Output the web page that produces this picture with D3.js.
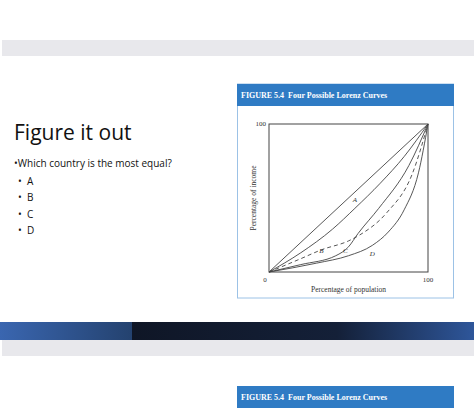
<!DOCTYPE html><html><head><meta charset="utf-8"><script src="https://cdn.jsdelivr.net/npm/d3@7"></script>
<style>body{margin:0;background:#fff}svg{display:block}</style></head><body><script>
const bullets=["A","B","C","D"];
const xTicks=[0,100];
const equality=[[0,0],[100,100]];
const curveA=[[0,0],[20,13],[40,29],[54,43],[70,60],[85,78],[100,100]];
const curveB=[[0,0],[20,9],[33,15],[50,21],[57,25],[74,40],[90,66],[100,100]];
const curveC=[[0,0],[20,5],[42,11],[50,17],[56,26],[69,43],[88,72],[100,100]];
const curveD=[[0,0],[30,6],[50,11],[65,18],[75,27],[85,42],[94,67],[100,100]];
const labels=[["A",54,47],["B",33,13],["C",48,13],["D",65,11]];

const svg=d3.select("body").append("svg").attr("width",474).attr("height",412);
svg.append("rect").attr("x",2).attr("y",40).attr("width",472).attr("height",16).attr("fill","#e8e8ec");
const txt=(x,y,s,t,o={})=>{const e=svg.append("text").attr("x",x).attr("y",y).attr("font-size",s).attr("font-family",o.f||"Open Sans, sans-serif").attr("fill",o.c||"#111").text(t);if(o.w)e.attr("font-weight",o.w);if(o.a)e.attr("text-anchor",o.a);return e;};
txt(14,140,21,"Figure it out");
txt(14,167,10,"•Which country is the most equal?");
bullets.forEach((b,i)=>{txt(18,185+i*16.3,10,"•");txt(27,185+i*16.3,10,b);});

function figure(y0,full){
  const g=svg.append("g");
  if(full) g.append("rect").attr("x",237.5).attr("y",y0).attr("width",216).attr("height",214).attr("fill","#fff").attr("stroke","#9cc2e6");
  g.append("rect").attr("x",237).attr("y",y0).attr("width",217).attr("height",22).attr("fill","#2f7bc4");
  g.append("text").attr("x",241).attr("y",y0+14).attr("font-size",8).attr("font-weight","bold").attr("font-family","Liberation Serif, serif").attr("fill","#fff").attr("xml:space","preserve").text("FIGURE 5.4  Four Possible Lorenz Curves");
}
figure(84,true);
figure(386,false);

const x=d3.scaleLinear().domain([0,100]).range([269,428]);
const y=d3.scaleLinear().domain([0,100]).range([272,124]);
svg.append("rect").attr("x",x(0)).attr("y",y(100)).attr("width",x(100)-x(0)).attr("height",y(0)-y(100)).attr("fill","none").attr("stroke","#444").attr("stroke-width",1);
const line=d3.line().x(d=>x(d[0])).y(d=>y(d[1])).curve(d3.curveMonotoneX);
[[equality,null],[curveA,null],[curveB,"4,3"],[curveC,null],[curveD,null]].forEach(([d,da])=>{
  const p=svg.append("path").attr("d",line(d)).attr("fill","none").attr("stroke","#444").attr("stroke-width",0.9);
  if(da)p.attr("stroke-dasharray",da);
});
const ser="Liberation Serif, serif";
labels.forEach(([t,a,b])=>txt(x(a),y(b),7,t,{f:ser,a:"middle",c:"#333"}).attr("font-style","italic"));
xTicks.forEach(v=>txt(x(v)+(v?0:-4),y(0)+10,7,String(v),{f:ser,a:"middle",c:"#333"}));
txt(x(0)-3,y(100)+2,7,"100",{f:ser,a:"end",c:"#333"});
txt(x(50),y(0)+20,7.5,"Percentage of population",{f:ser,a:"middle",c:"#333"});
txt(0,0,7.5,"Percentage of income",{f:ser,a:"middle",c:"#333"}).attr("transform",`translate(256,${y(50)}) rotate(-90)`);

const defs=svg.append("defs");
const gr=defs.append("linearGradient").attr("id","bl");
gr.append("stop").attr("offset","0").attr("stop-color","#3a66b0");gr.append("stop").attr("offset","1").attr("stop-color","#24426f");
const gd=defs.append("linearGradient").attr("id","dk");
gd.append("stop").attr("offset","0").attr("stop-color","#0f1626");gd.append("stop").attr("offset","0.6").attr("stop-color","#142038");gd.append("stop").attr("offset","1").attr("stop-color","#2e569a");
svg.append("rect").attr("x",0).attr("y",322).attr("width",132).attr("height",18).attr("fill","url(#bl)");
svg.append("rect").attr("x",132).attr("y",322).attr("width",342).attr("height",18).attr("fill","url(#dk)");
svg.append("rect").attr("x",2).attr("y",340).attr("width",472).attr("height",16).attr("fill","#e8e8ec");
</script></body></html>
